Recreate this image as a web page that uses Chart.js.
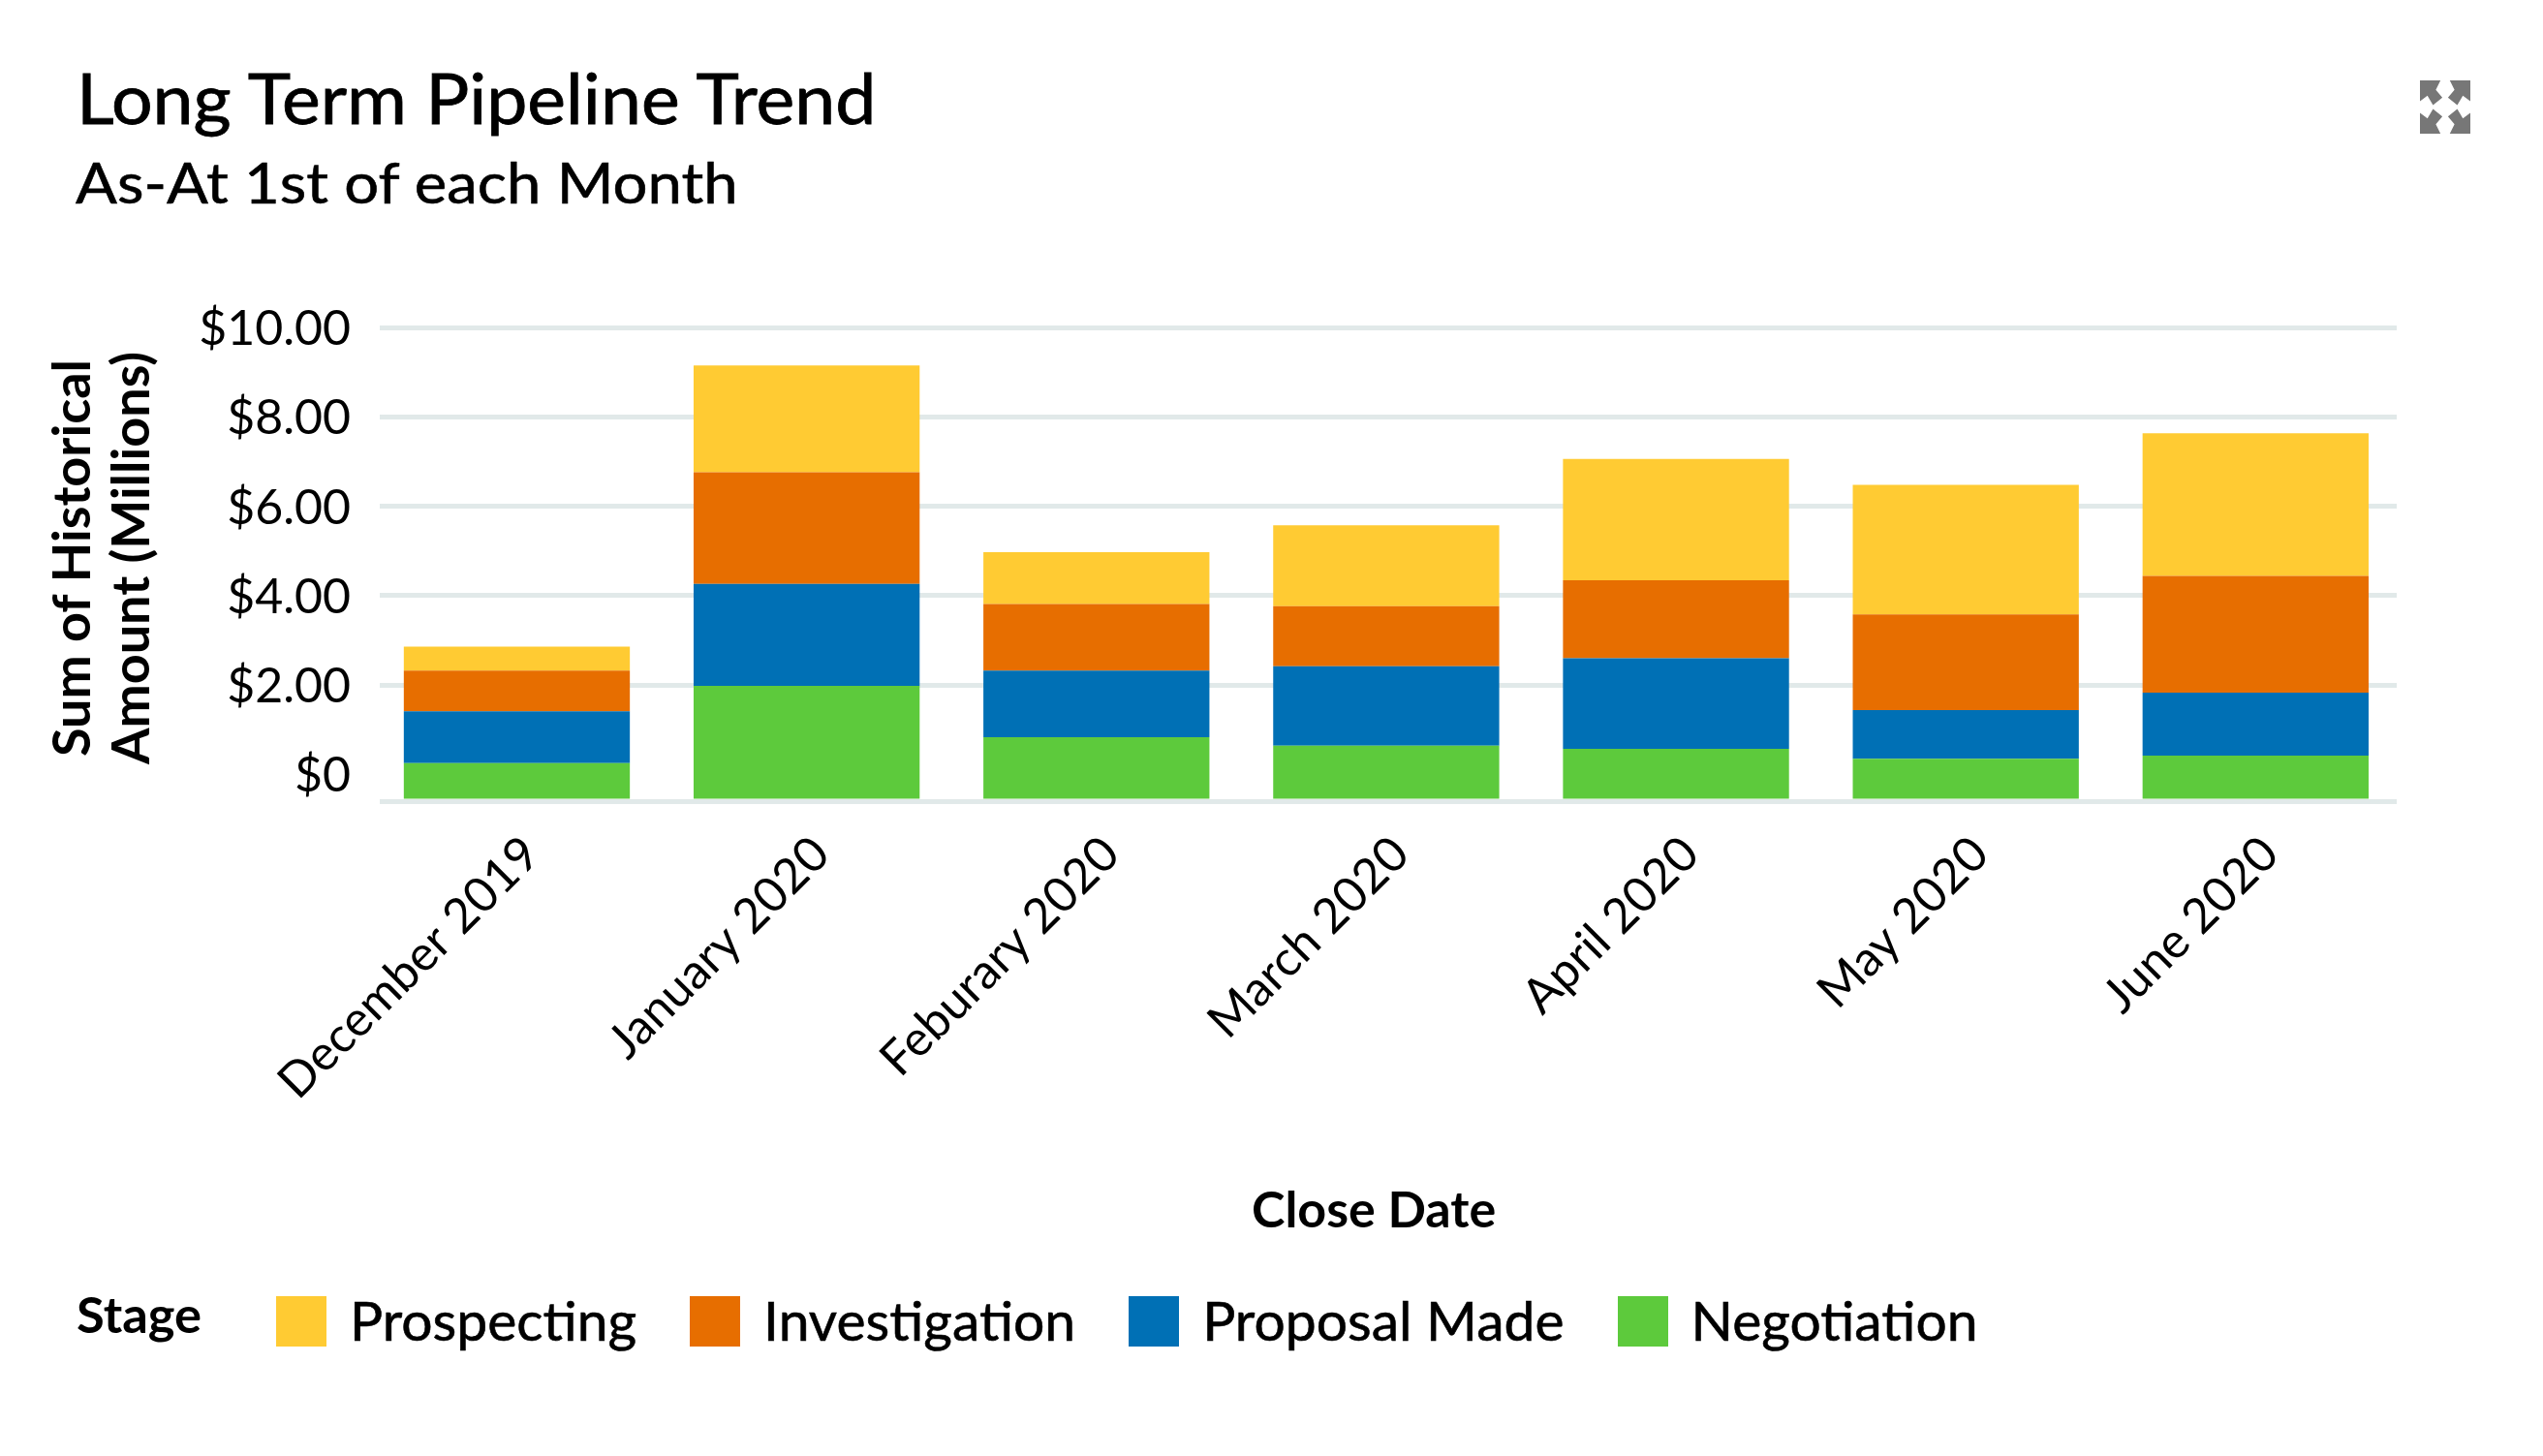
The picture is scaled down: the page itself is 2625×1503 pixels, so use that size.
<!DOCTYPE html>
<html>
<head>
<meta charset="utf-8">
<title>Long Term Pipeline Trend</title>
<script src="https://cdn.jsdelivr.net/npm/chart.js@4"></script>
<style>
  body { margin: 0; background: #fff; font-family: Lato, sans-serif; color: #000; }
  .wrap { position: relative; width: 2625px; height: 1503px; overflow: hidden; }
  canvas { position: absolute; left: 0; top: 0; }
  .txt { position: absolute; white-space: nowrap; line-height: 1; }
  #title { left: 79px; top: 64px; font-size: 72px; transform: scaleX(1.045); transform-origin: left; -webkit-text-stroke: 0.8px #000; }
  #subtitle { left: 78px; top: 158px; font-size: 59px; transform: scaleX(1.075); transform-origin: left; -webkit-text-stroke: 0.6px #000; }
  #ytitle { left: 103px; top: 576px; width: 500px; margin-left: -250px; text-align: center; font-size: 54px; line-height: 61px; font-weight: bold; transform: translateY(-50%) rotate(-90deg); white-space: nowrap; }
  #xtitle { left: 1292px; top: 1221px; font-size: 52px; font-weight: bold; }
  #stage { left: 79px; top: 1330px; font-size: 52.5px; font-weight: bold; }
  #legend { position: absolute; left: 285px; top: 1338px; display: flex; }
  .item { display: flex; align-items: center; margin-right: 55px; font-size: 57px; line-height: 52px; -webkit-text-stroke: 0.6px #000; }
  .item span { position: relative; top: -2px; }
  .swatch { width: 52px; height: 52px; margin-right: 24px; }
  #icon { position: absolute; left: 2498px; top: 83px; }
</style>
</head>
<body>
<div class="wrap">
  <canvas id="chart" width="2625" height="1503"></canvas>
  <div class="txt" id="title">Long Term Pipeline Trend</div>
  <div class="txt" id="subtitle">As-At 1st of each Month</div>
  <div class="txt" id="ytitle">Sum of Historical<br>Amount (Millions)</div>
  <div class="txt" id="xtitle">Close Date</div>
  <div class="txt" id="stage">Stage</div>
  <div id="legend"></div>
  <svg id="icon" width="52" height="55" viewBox="0 0 54 56" preserveAspectRatio="none" fill="#777">
    <polygon points="0,0 22,0 17,10 24,18 14,26 8,16 0,22"/>
    <polygon points="54,0 32,0 37,10 30,18 40,26 46,16 54,22"/>
    <polygon points="0,56 22,56 17,46 24,38 14,30 8,40 0,34"/>
    <polygon points="54,56 32,56 37,46 30,38 40,30 46,40 54,34"/>
  </svg>
</div>
<script>
const categories = ['December 2019', 'January 2020', 'Feburary 2020', 'March 2020', 'April 2020', 'May 2020', 'June 2020']
// values in $ millions
const negotiation = [0.25, 1.98, 0.83, 0.64, 0.57, 0.35, 0.42]
const proposalMade = [1.16, 2.28, 1.49, 1.78, 2.03, 1.09, 1.41]
const investigation = [0.91, 2.50, 1.49, 1.34, 1.74, 2.14, 2.61]
const prospecting = [0.54, 2.39, 1.16, 1.81, 2.72, 2.90, 3.19]
const tickValues = [0, 2, 4, 6, 8, 10]
// the axis runs a little below $0 and the bars sit on that bottom line
const axisBottom = -0.6

const gridColor = '#e1e9e9'

const chart = new Chart(document.querySelector('#chart'), {
    type: 'bar',
    data: {
        labels: categories,
        datasets: [
            { label: 'Negotiation', data: negotiation, backgroundColor: '#5dca3c', base: axisBottom },
            { label: 'Proposal Made', data: proposalMade, backgroundColor: '#0070b5' },
            { label: 'Investigation', data: investigation, backgroundColor: '#e76e00' },
            { label: 'Prospecting', data: prospecting, backgroundColor: '#ffcb33' },
        ],
    },
    options: {
        responsive: false,
        animation: false,
        devicePixelRatio: 1,
        layout: { padding: { left: 0, top: 338, right: 151, bottom: 326 } },
        datasets: { bar: { barPercentage: 0.78, categoryPercentage: 1 } },
        plugins: { legend: { display: false }, tooltip: { enabled: false } },
        scales: {
            x: {
                stacked: true,
                afterFit: scale => { scale.height = 350 },
                // the bars are not quite centred in their slots, nudge the category range
                afterUpdate: scale => {
                    scale._startValue = -0.473
                    scale._valueRange = 6.96
                },
                grid: { display: false },
                border: { display: false },
                ticks: {
                    color: '#000',
                    font: { family: 'Lato', size: 50 },
                    minRotation: 45,
                    maxRotation: 45,
                    autoSkip: false,
                    padding: 17,
                    labelOffset: 15,
                },
            },
            y: {
                stacked: true,
                min: axisBottom,
                max: 10,
                afterFit: scale => { scale.width = 392 },
                afterBuildTicks: scale => {
                    scale.ticks = [axisBottom, ...tickValues].map(value => ({ value }))
                },
                grid: {
                    drawTicks: false,
                    lineWidth: 5,
                    color: ctx => ctx.tick && ctx.tick.value === 0 ? 'rgba(0,0,0,0)' : gridColor,
                },
                border: { display: false },
                ticks: {
                    color: '#000',
                    font: { family: 'Lato', size: 50 },
                    padding: 30,
                    labelOffset: 2,
                    autoSkip: false,
                    callback: value => {
                        if (value === axisBottom) return ''
                        return value === 0 ? '$0' : '$' + value.toFixed(2)
                    },
                },
            },
        },
    },
})

// legend runs top of the stack first
const legend = document.querySelector('#legend')
chart.data.datasets.slice().reverse().forEach(set => {
    const item = document.createElement('div')
    item.classList.add('item')
    const swatch = document.createElement('div')
    swatch.classList.add('swatch')
    swatch.style.background = set.backgroundColor
    const name = document.createElement('span')
    name.textContent = set.label
    item.append(swatch, name)
    legend.append(item)
})
</script>
</body>
</html>
